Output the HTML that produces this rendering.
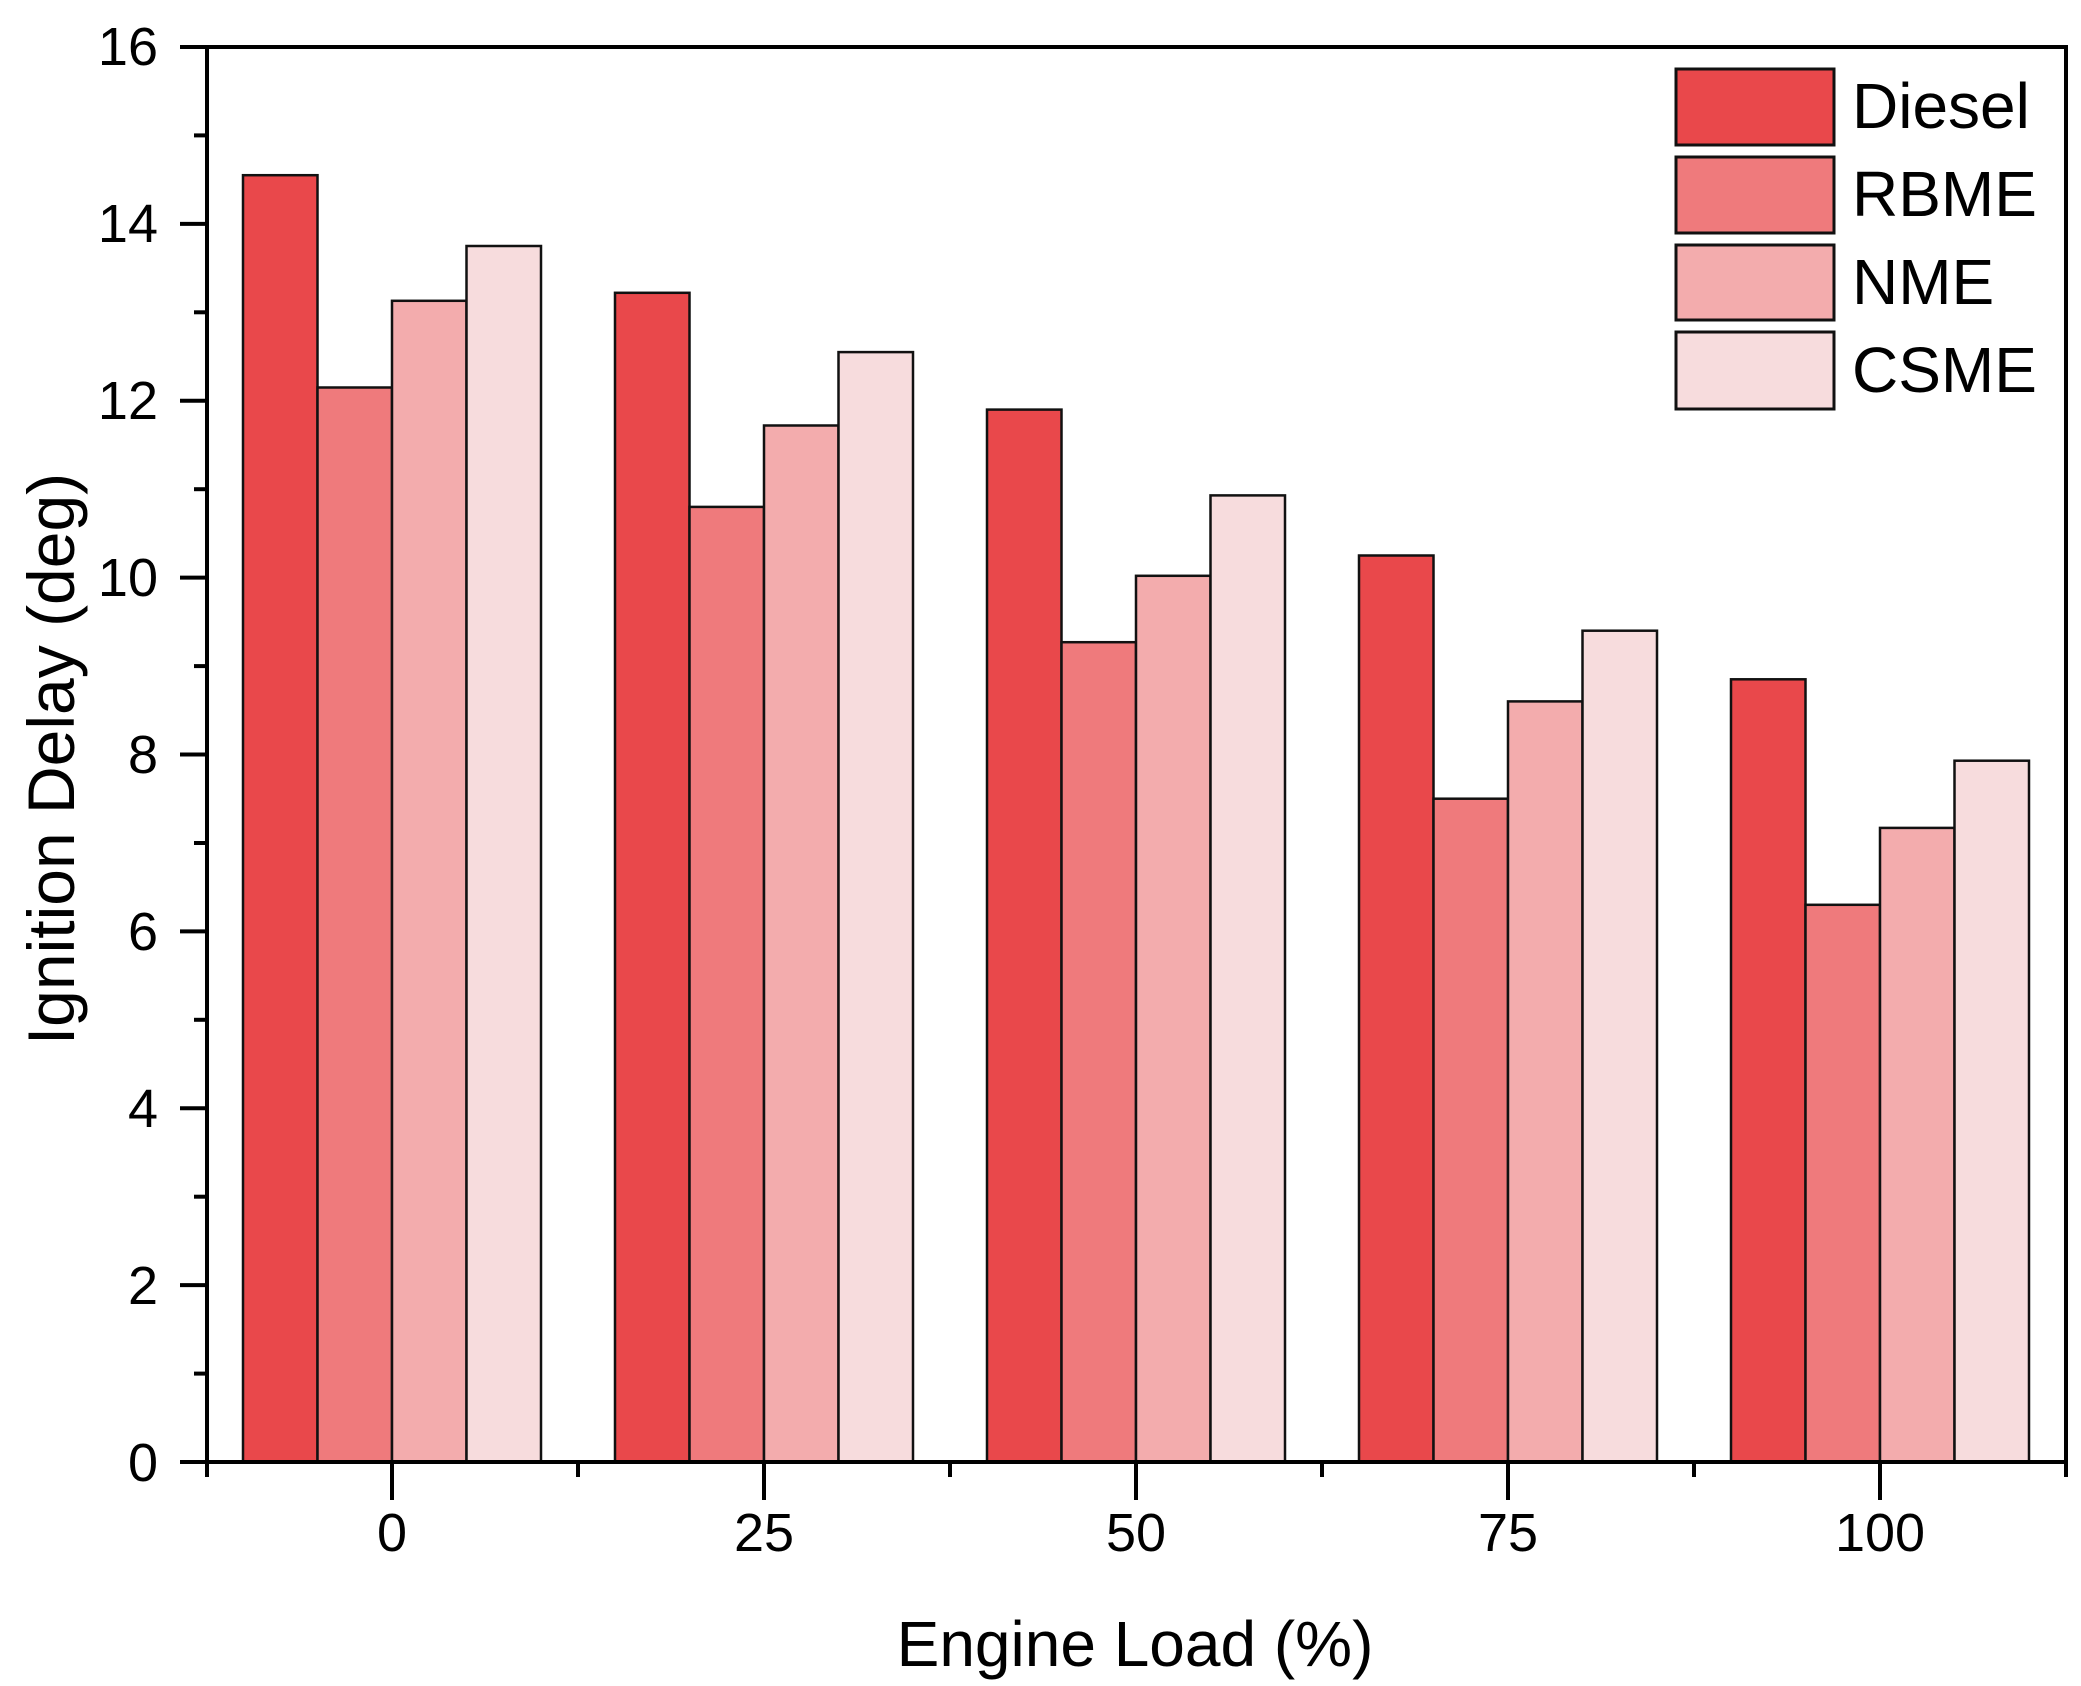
<!DOCTYPE html>
<html><head><meta charset="utf-8"><style>
html,body{margin:0;padding:0;background:#fff;}
svg{display:block;}
text{font-family:"Liberation Sans",sans-serif;fill:#000;}
</style></head><body>
<svg width="2081" height="1686" viewBox="0 0 2081 1686" xmlns="http://www.w3.org/2000/svg">
<g stroke="#111" stroke-width="2.5">
<g fill="#E9484B">
<rect x="243" y="175.2" width="74.5" height="1286.8"/>
<rect x="615" y="292.8" width="74.5" height="1169.2"/>
<rect x="987" y="409.6" width="74.5" height="1052.4"/>
<rect x="1359" y="555.5" width="74.5" height="906.5"/>
<rect x="1731" y="679.3" width="74.5" height="782.7"/>
</g>
<g fill="#EF7A7C">
<rect x="317.5" y="387.5" width="74.5" height="1074.5"/>
<rect x="689.5" y="506.9" width="74.5" height="955.1"/>
<rect x="1061.5" y="642.2" width="74.5" height="819.8"/>
<rect x="1433.5" y="798.7" width="74.5" height="663.3"/>
<rect x="1805.5" y="904.8" width="74.5" height="557.2"/>
</g>
<g fill="#F3ACAD">
<rect x="392" y="300.8" width="74.5" height="1161.2"/>
<rect x="764" y="425.5" width="74.5" height="1036.5"/>
<rect x="1136" y="575.8" width="74.5" height="886.2"/>
<rect x="1508" y="701.4" width="74.5" height="760.6"/>
<rect x="1880" y="827.9" width="74.5" height="634.1"/>
</g>
<g fill="#F7DCDD">
<rect x="466.5" y="246" width="74.5" height="1216"/>
<rect x="838.5" y="352.1" width="74.5" height="1109.9"/>
<rect x="1210.5" y="495.4" width="74.5" height="966.6"/>
<rect x="1582.5" y="630.7" width="74.5" height="831.3"/>
<rect x="1954.5" y="760.7" width="74.5" height="701.3"/>
</g>
</g>
<g stroke="#000" stroke-width="4" fill="none">
<rect x="207" y="47" width="1859" height="1415"/>
<line x1="180" y1="1462" x2="207" y2="1462"/><line x1="180" y1="1285.1" x2="207" y2="1285.1"/>
<line x1="180" y1="1108.25" x2="207" y2="1108.25"/><line x1="180" y1="931.4" x2="207" y2="931.4"/>
<line x1="180" y1="754.5" x2="207" y2="754.5"/><line x1="180" y1="577.6" x2="207" y2="577.6"/>
<line x1="180" y1="400.75" x2="207" y2="400.75"/><line x1="180" y1="223.9" x2="207" y2="223.9"/>
<line x1="180" y1="47" x2="207" y2="47"/>
<line x1="194" y1="1373.6" x2="207" y2="1373.6"/><line x1="194" y1="1196.7" x2="207" y2="1196.7"/>
<line x1="194" y1="1019.8" x2="207" y2="1019.8"/><line x1="194" y1="843" x2="207" y2="843"/>
<line x1="194" y1="666.1" x2="207" y2="666.1"/><line x1="194" y1="489.2" x2="207" y2="489.2"/>
<line x1="194" y1="312.3" x2="207" y2="312.3"/><line x1="194" y1="135.4" x2="207" y2="135.4"/>
<line x1="392" y1="1462" x2="392" y2="1500"/><line x1="764" y1="1462" x2="764" y2="1500"/>
<line x1="1136" y1="1462" x2="1136" y2="1500"/><line x1="1508" y1="1462" x2="1508" y2="1500"/>
<line x1="1880" y1="1462" x2="1880" y2="1500"/>
<line x1="207" y1="1462" x2="207" y2="1477"/><line x1="578" y1="1462" x2="578" y2="1477"/>
<line x1="950" y1="1462" x2="950" y2="1477"/><line x1="1322" y1="1462" x2="1322" y2="1477"/>
<line x1="1694" y1="1462" x2="1694" y2="1477"/><line x1="2066" y1="1462" x2="2066" y2="1477"/>
</g>
<g font-size="54" text-anchor="end">
<text x="158" y="1481">0</text><text x="158" y="1304">2</text><text x="158" y="1127">4</text>
<text x="158" y="950">6</text><text x="158" y="773">8</text><text x="158" y="596">10</text>
<text x="158" y="419">12</text><text x="158" y="242">14</text><text x="158" y="65">16</text>
</g>
<g font-size="54" text-anchor="middle">
<text x="392" y="1551">0</text><text x="764" y="1551">25</text><text x="1136" y="1551">50</text>
<text x="1508" y="1551">75</text><text x="1880" y="1551">100</text>
</g>
<text x="1135" y="1666" font-size="64" text-anchor="middle">Engine Load (%)</text>
<text transform="translate(74,759) rotate(-90)" font-size="66" text-anchor="middle">Ignition Delay (deg)</text>
<g stroke="#111" stroke-width="3">
<rect x="1676" y="69" width="158" height="76" fill="#E9484B"/>
<rect x="1676" y="157" width="158" height="76" fill="#EF7A7C"/>
<rect x="1676" y="245" width="158" height="75" fill="#F3ACAD"/>
<rect x="1676" y="332" width="158" height="77" fill="#F7DCDD"/>
</g>
<g font-size="64">
<text x="1852" y="128">Diesel</text><text x="1852" y="216">RBME</text>
<text x="1852" y="304">NME</text><text x="1852" y="392">CSME</text>
</g>
</svg>
</body></html>
